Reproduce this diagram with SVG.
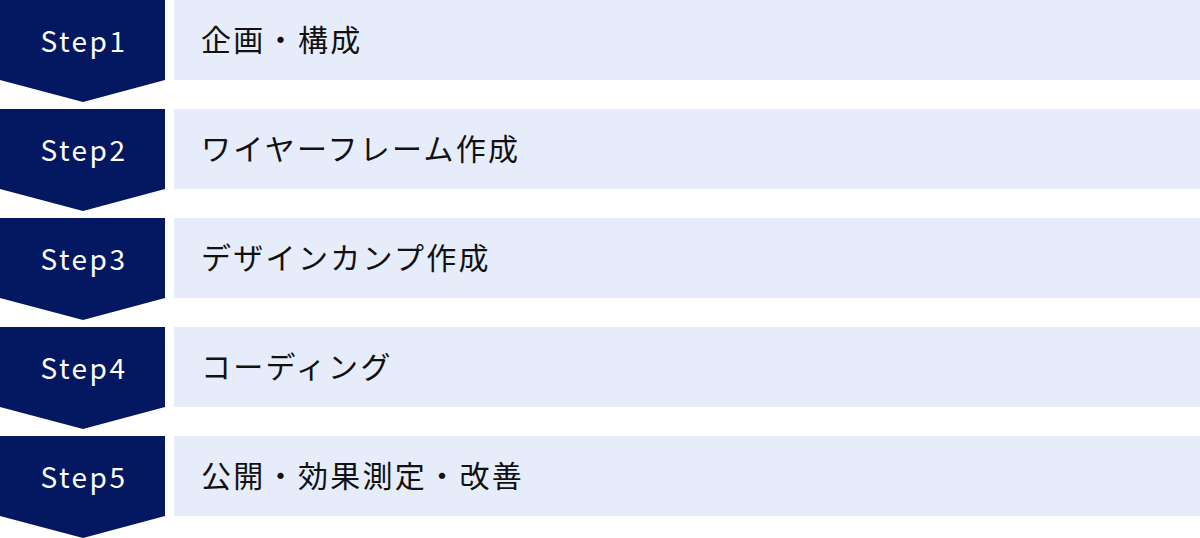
<svg xmlns="http://www.w3.org/2000/svg" width="1200" height="538" viewBox="0 0 1200 538">
<defs>
<style>
.chev{fill:#041761}
.bar{fill:#e6ecf9}
.step{font-family:"Noto Sans CJK JP","Noto Sans",sans-serif;font-size:28px;font-weight:400;fill:#ffffff;text-anchor:middle;letter-spacing:2.5px}
.lbl{font-family:"Noto Sans CJK JP","Noto Sans",sans-serif;font-size:30px;font-weight:400;fill:#111111;letter-spacing:2.3px}
</style>
<path id="chevShape" class="chev" d="M0,0 H165 V80 L83,102 L0,80 Z"/>
</defs>
<rect width="1200" height="538" fill="#ffffff"/>
<g id="step1" transform="translate(0,0)">
<use href="#chevShape"/>
<rect class="bar" x="174" y="0" width="1026" height="80"/>
<text class="step" x="84" y="52">Step1</text>
<text class="lbl" x="201" y="51">企画・構成</text>
</g>
<g id="step2" transform="translate(0,109)">
<use href="#chevShape"/>
<rect class="bar" x="174" y="0" width="1026" height="80"/>
<text class="step" x="84" y="52">Step2</text>
<text class="lbl" x="201" y="51">ワイヤーフレーム作成</text>
</g>
<g id="step3" transform="translate(0,218)">
<use href="#chevShape"/>
<rect class="bar" x="174" y="0" width="1026" height="80"/>
<text class="step" x="84" y="52">Step3</text>
<text class="lbl" x="201" y="51">デザインカンプ作成</text>
</g>
<g id="step4" transform="translate(0,327)">
<use href="#chevShape"/>
<rect class="bar" x="174" y="0" width="1026" height="80"/>
<text class="step" x="84" y="52">Step4</text>
<text class="lbl" x="201" y="51">コーディング</text>
</g>
<g id="step5" transform="translate(0,436)">
<use href="#chevShape"/>
<rect class="bar" x="174" y="0" width="1026" height="80"/>
<text class="step" x="84" y="52">Step5</text>
<text class="lbl" x="201" y="51">公開・効果測定・改善</text>
</g>
<g id="connectors"></g>
</svg>
